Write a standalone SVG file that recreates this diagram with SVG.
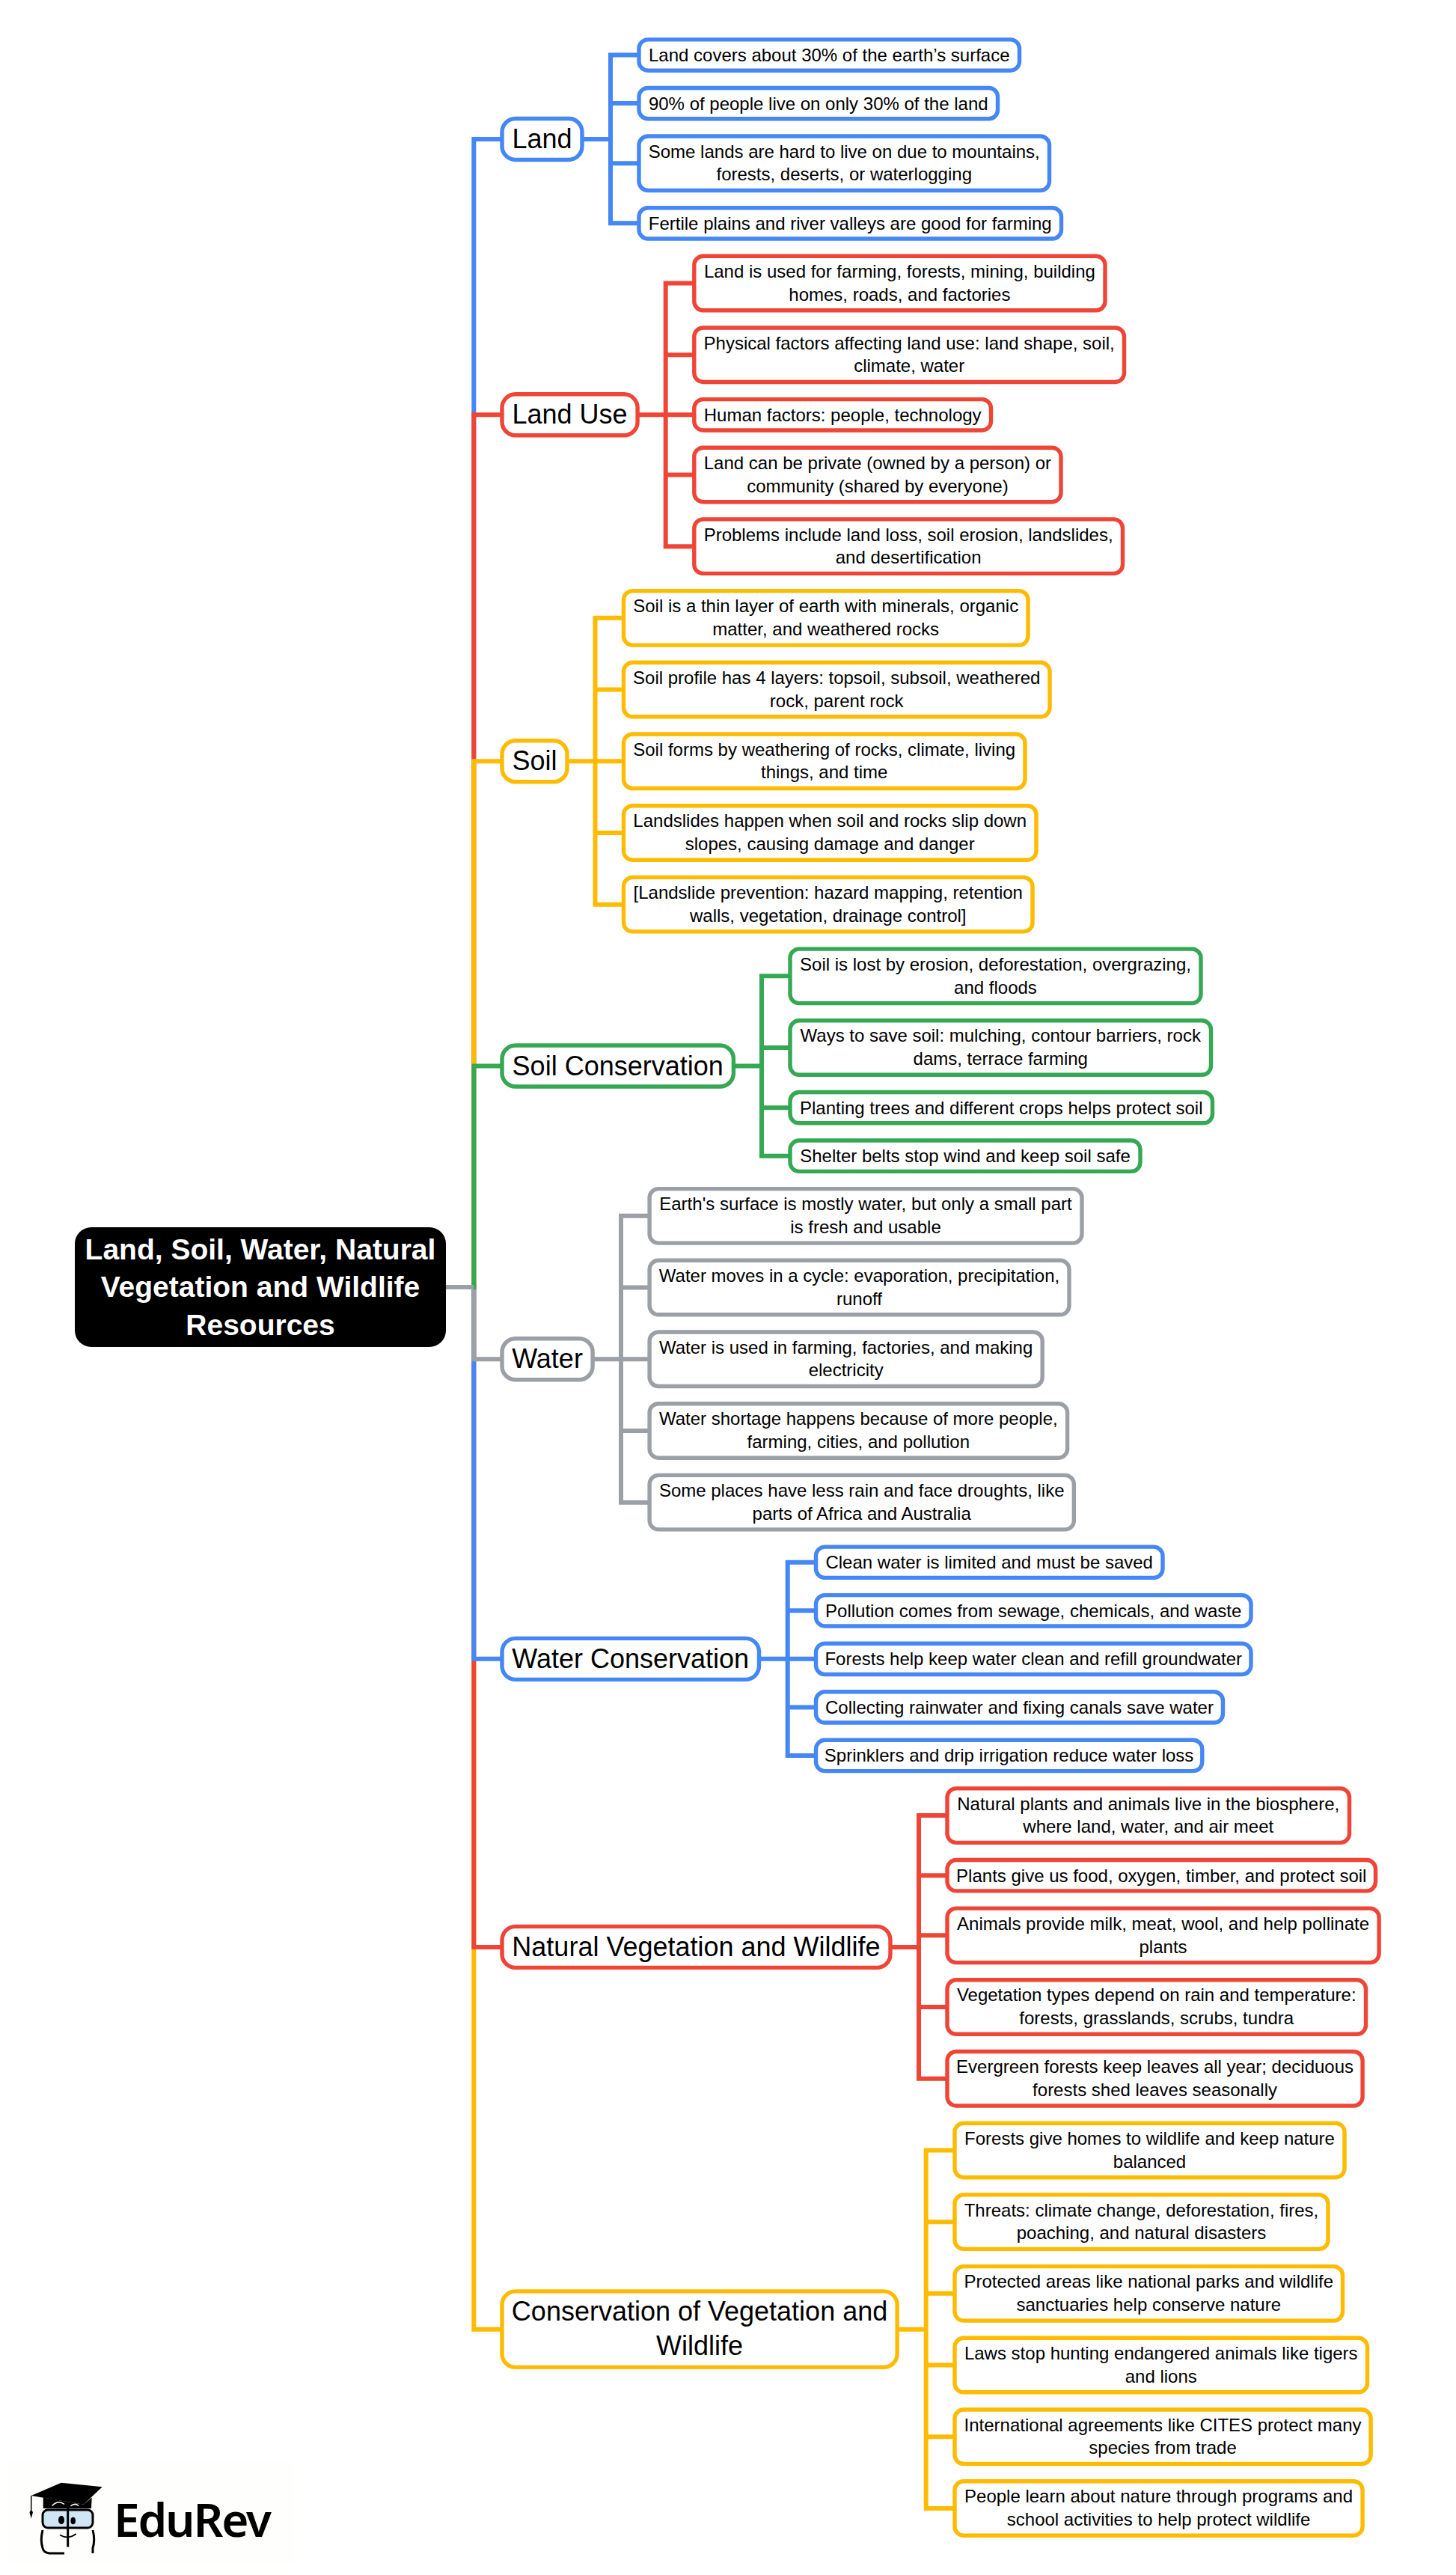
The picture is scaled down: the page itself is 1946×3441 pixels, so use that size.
<svg xmlns="http://www.w3.org/2000/svg" width="1946" height="3441" viewBox="0 0 1946 3441">
<style>
text{font-family:"Liberation Sans",Arial,sans-serif;text-anchor:middle;fill:#000}
.leaf text{font-size:24px}
.top text{font-size:36px}
.leaf rect,.top rect{fill:#fff;stroke-width:5.4}
.leaf rect{rx:12px;ry:12px}
.top rect{rx:18px;ry:18px}
.b rect{stroke:#4487f5}.r rect{stroke:#ef4537}.y rect{stroke:#ffbb00}.g rect{stroke:#34a853}.k rect{stroke:#9aa0a6}
#connectors path{fill:none;stroke-width:6;stroke-linejoin:miter}
path.b{stroke:#4487f5}path.r{stroke:#ef4537}path.y{stroke:#ffbb00}path.g{stroke:#34a853}path.k{stroke:#9aa0a6}
</style>
<rect width="1946" height="3441" fill="#fff"/>
<rect x="10" y="3290" width="383" height="135" fill="#fefefc"/>
<g id="connectors">
<path class="y" d="M596 1720H633.3V3112.7H671"/>
<path class="r" d="M596 1720H633.3V2601.9H671"/>
<path class="b" d="M596 1720H633.3V2216.85H671"/>
<path class="k" d="M596 1720H633.3V1816.25H671"/>
<path class="b" d="M596 1720H633.3V185.95H671"/>
<path class="r" d="M596 1720H633.3V554.3H671"/>
<path class="y" d="M596 1720H633.3V1017.25H671"/>
<path class="g" d="M596 1720H633.3V1424.5H671"/>
<path class="k" d="M596 1720H633.3"/>
<path class="b" d="M780 185.95H816M854 73.55H816V298.35H854M816 138.1H854M816 218.25H854"/>
<path class="r" d="M854 554.3H927.8M927.8 378.5H889.7V730.15H927.8M889.7 474.2H927.8M889.7 634.45H927.8"/>
<path class="y" d="M760 1017.25H833.5M833.5 825.85H795.5V1208.65H833.5M795.5 921.55H833.5M795.5 1112.95H833.5"/>
<path class="g" d="M982 1424.5H1018M1056 1304.35H1018V1544.7H1056M1018 1400.05H1056M1018 1480.15H1056"/>
<path class="k" d="M794 1816.25H868.1M868.1 1624.85H830V2007.65H868.1M830 1720.55H868.1M830 1911.95H868.1"/>
<path class="b" d="M1016 2216.85H1090.500M1090.500 2087.75H1052.700V2345.95H1090.500M1052.700 2152.3H1090.500M1052.700 2281.4H1090.500"/>
<path class="r" d="M1192 2601.9H1228M1266 2426.1H1228V2777.75H1266M1228 2506.2H1266M1228 2586.35H1266M1228 2682.05H1266"/>
<path class="y" d="M1201 3112.7H1237.7M1276 2873.45H1237.7V3351.95H1276M1237.7 2969.15H1276M1237.7 3064.85H1276M1237.7 3160.55H1276M1237.7 3256.25H1276"/>
</g>
<g id="root">
<rect x="100" y="1640" width="496" height="160" rx="22" fill="#000"/>
<text x="348" y="1682.7" font-size="39" font-weight="700" style="fill:#fff">Land, Soil, Water, Natural</text>
<text x="348" y="1733" font-size="39" font-weight="700" style="fill:#fff">Vegetation and Wildlife</text>
<text x="348" y="1783.500" font-size="39" font-weight="700" style="fill:#fff">Resources</text>
</g>
<g id="land" class="top b"><rect x="671" y="158.45" width="107" height="55"/><text x="724.5" y="198">Land</text></g>
<g id="land-use" class="top r"><rect x="671" y="526.8" width="181.1" height="55"/><text x="761.55" y="566.3">Land Use</text></g>
<g id="soil" class="top y"><rect x="671" y="989.75" width="87" height="55"/><text x="714.5" y="1029.25">Soil</text></g>
<g id="soil-conservation" class="top g"><rect x="671" y="1397" width="309.4" height="55"/><text x="825.7" y="1436.5">Soil Conservation</text></g>
<g id="water" class="top k"><rect x="671" y="1788.75" width="121.1" height="55"/><text x="731.55" y="1828.25">Water</text></g>
<g id="water-conservation" class="top b"><rect x="671" y="2189.35" width="343.5" height="55"/><text x="842.75" y="2228.85">Water Conservation</text></g>
<g id="natural-vegetation" class="top r"><rect x="671" y="2574.4" width="519" height="55"/><text x="930.5" y="2613.9">Natural Vegetation and Wildlife</text></g>
<g id="conservation-vegetation" class="top y"><rect x="671" y="3061.9" width="528.1" height="101.5"/><text x="935.05" y="3101">Conservation of Vegetation and</text><text x="935.05" y="3147">Wildlife</text></g>
<g id="l1" class="leaf b"><rect x="854" y="52.9" width="508.5" height="41.3"/><text x="1108.25" y="81.95">Land covers about 30% of the earth’s surface</text></g>
<g id="l2" class="leaf b"><rect x="854" y="117.45" width="479.5" height="41.3"/><text x="1093.75" y="146.5">90% of people live on only 30% of the land</text></g>
<g id="l3" class="leaf b"><rect x="854" y="182" width="548.5" height="72.5"/><text x="1128.25" y="210.65">Some lands are hard to live on due to mountains,</text><text x="1128.25" y="241.45">forests, deserts, or waterlogging</text></g>
<g id="l4" class="leaf b"><rect x="854" y="277.7" width="564.5" height="41.3"/><text x="1136.25" y="306.75">Fertile plains and river valleys are good for farming</text></g>
<g id="r1" class="leaf r"><rect x="927.8" y="342.25" width="549.2" height="72.5"/><text x="1202.4" y="370.9">Land is used for farming, forests, mining, building</text><text x="1202.4" y="401.7">homes, roads, and factories</text></g>
<g id="r2" class="leaf r"><rect x="927.8" y="437.95" width="574.7" height="72.5"/><text x="1215.15" y="466.6">Physical factors affecting land use: land shape, soil,</text><text x="1215.15" y="497.4">climate, water</text></g>
<g id="r3" class="leaf r"><rect x="927.8" y="533.65" width="396.7" height="41.3"/><text x="1126.15" y="562.7">Human factors: people, technology</text></g>
<g id="r4" class="leaf r"><rect x="927.8" y="598.2" width="490.2" height="72.5"/><text x="1172.9" y="626.85">Land can be private (owned by a person) or</text><text x="1172.9" y="657.65">community (shared by everyone)</text></g>
<g id="r5" class="leaf r"><rect x="927.8" y="693.9" width="572.7" height="72.5"/><text x="1214.15" y="722.55">Problems include land loss, soil erosion, landslides,</text><text x="1214.15" y="753.35">and desertification</text></g>
<g id="s1" class="leaf y"><rect x="833.5" y="789.6" width="540.5" height="72.5"/><text x="1103.7" y="818.25">Soil is a thin layer of earth with minerals, organic</text><text x="1103.7" y="849.05">matter, and weathered rocks</text></g>
<g id="s2" class="leaf y"><rect x="833.5" y="885.3" width="569.5" height="72.5"/><text x="1118.2" y="913.95">Soil profile has 4 layers: topsoil, subsoil, weathered</text><text x="1118.2" y="944.75">rock, parent rock</text></g>
<g id="s3" class="leaf y"><rect x="833.5" y="981" width="536.5" height="72.5"/><text x="1101.7" y="1009.65">Soil forms by weathering of rocks, climate, living</text><text x="1101.7" y="1040.45">things, and time</text></g>
<g id="s4" class="leaf y"><rect x="833.5" y="1076.7" width="551.5" height="72.5"/><text x="1109.2" y="1105.35">Landslides happen when soil and rocks slip down</text><text x="1109.2" y="1136.15">slopes, causing damage and danger</text></g>
<g id="s5" class="leaf y"><rect x="833.5" y="1172.4" width="546.5" height="72.5"/><text x="1106.75" y="1201.05">[Landslide prevention: hazard mapping, retention</text><text x="1106.75" y="1231.85">walls, vegetation, drainage control]</text></g>
<g id="g1" class="leaf g"><rect x="1056" y="1268.1" width="549" height="72.5"/><text x="1330.5" y="1296.75">Soil is lost by erosion, deforestation, overgrazing,</text><text x="1330.5" y="1327.55">and floods</text></g>
<g id="g2" class="leaf g"><rect x="1056" y="1363.8" width="562.5" height="72.5"/><text x="1337.25" y="1392.45">Ways to save soil: mulching, contour barriers, rock</text><text x="1337.25" y="1423.25">dams, terrace farming</text></g>
<g id="g3" class="leaf g"><rect x="1056" y="1459.5" width="564.5" height="41.3"/><text x="1338.25" y="1488.55">Planting trees and different crops helps protect soil</text></g>
<g id="g4" class="leaf g"><rect x="1056" y="1524.05" width="468" height="41.3"/><text x="1290" y="1553.1">Shelter belts stop wind and keep soil safe</text></g>
<g id="w1" class="leaf k"><rect x="868.1" y="1588.6" width="577.9" height="72.5"/><text x="1157" y="1617.25">Earth's surface is mostly water, but only a small part</text><text x="1157" y="1648.05">is fresh and usable</text></g>
<g id="w2" class="leaf k"><rect x="868.1" y="1684.3" width="560.9" height="72.5"/><text x="1148.5" y="1712.95">Water moves in a cycle: evaporation, precipitation,</text><text x="1148.5" y="1743.75">runoff</text></g>
<g id="w3" class="leaf k"><rect x="868.1" y="1780" width="525.1" height="72.5"/><text x="1130.65" y="1808.65">Water is used in farming, factories, and making</text><text x="1130.65" y="1839.45">electricity</text></g>
<g id="w4" class="leaf k"><rect x="868.1" y="1875.7" width="558.5" height="72.5"/><text x="1147.3" y="1904.35">Water shortage happens because of more people,</text><text x="1147.3" y="1935.15">farming, cities, and pollution</text></g>
<g id="w5" class="leaf k"><rect x="868.1" y="1971.4" width="567.3" height="72.5"/><text x="1151.7" y="2000.05">Some places have less rain and face droughts, like</text><text x="1151.7" y="2030.85">parts of Africa and Australia</text></g>
<g id="b1" class="leaf b"><rect x="1090.5" y="2067.1" width="463.5" height="41.3"/><text x="1322.2" y="2096.15">Clean water is limited and must be saved</text></g>
<g id="b2" class="leaf b"><rect x="1090.5" y="2131.65" width="581.5" height="41.3"/><text x="1381.2" y="2160.7">Pollution comes from sewage, chemicals, and waste</text></g>
<g id="b3" class="leaf b"><rect x="1090.5" y="2196.2" width="581.5" height="41.3"/><text x="1381.2" y="2225.25">Forests help keep water clean and refill groundwater</text></g>
<g id="b4" class="leaf b"><rect x="1090.5" y="2260.75" width="544" height="41.3"/><text x="1362.5" y="2289.8">Collecting rainwater and fixing canals save water</text></g>
<g id="b5" class="leaf b"><rect x="1090.5" y="2325.3" width="516.3" height="41.3"/><text x="1348.6" y="2354.35">Sprinklers and drip irrigation reduce water loss</text></g>
<g id="n1" class="leaf r"><rect x="1266" y="2389.85" width="537.5" height="72.5"/><text x="1534.75" y="2418.5">Natural plants and animals live in the biosphere,</text><text x="1534.75" y="2449.3">where land, water, and air meet</text></g>
<g id="n2" class="leaf r"><rect x="1266" y="2485.55" width="572.5" height="41.3"/><text x="1552.25" y="2514.6">Plants give us food, oxygen, timber, and protect soil</text></g>
<g id="n3" class="leaf r"><rect x="1266" y="2550.1" width="577.1" height="72.5"/><text x="1554.55" y="2578.75">Animals provide milk, meat, wool, and help pollinate</text><text x="1554.55" y="2609.55">plants</text></g>
<g id="n4" class="leaf r"><rect x="1266" y="2645.8" width="559.5" height="72.5"/><text x="1545.75" y="2674.45">Vegetation types depend on rain and temperature:</text><text x="1545.75" y="2705.25">forests, grasslands, scrubs, tundra</text></g>
<g id="n5" class="leaf r"><rect x="1266" y="2741.5" width="555.1" height="72.5"/><text x="1543.55" y="2770.15">Evergreen forests keep leaves all year; deciduous</text><text x="1543.55" y="2800.95">forests shed leaves seasonally</text></g>
<g id="c1" class="leaf y"><rect x="1276" y="2837.2" width="521" height="72.5"/><text x="1536.5" y="2865.85">Forests give homes to wildlife and keep nature</text><text x="1536.5" y="2896.65">balanced</text></g>
<g id="c2" class="leaf y"><rect x="1276" y="2932.9" width="499" height="72.5"/><text x="1525.5" y="2961.55">Threats: climate change, deforestation, fires,</text><text x="1525.5" y="2992.35">poaching, and natural disasters</text></g>
<g id="c3" class="leaf y"><rect x="1276" y="3028.6" width="518.5" height="72.5"/><text x="1535.25" y="3057.25">Protected areas like national parks and wildlife</text><text x="1535.25" y="3088.05">sanctuaries help conserve nature</text></g>
<g id="c4" class="leaf y"><rect x="1276" y="3124.3" width="551.5" height="72.5"/><text x="1551.75" y="3152.95">Laws stop hunting endangered animals like tigers</text><text x="1551.75" y="3183.75">and lions</text></g>
<g id="c5" class="leaf y"><rect x="1276" y="3220" width="556.1" height="72.5"/><text x="1554.05" y="3248.65">International agreements like CITES protect many</text><text x="1554.05" y="3279.45">species from trade</text></g>
<g id="c6" class="leaf y"><rect x="1276" y="3315.7" width="545.1" height="72.5"/><text x="1548.55" y="3344.35">People learn about nature through programs and</text><text x="1548.55" y="3375.15">school activities to help protect wildlife</text></g>
<g id="logo">
<rect x="57" y="3354" width="67" height="24" rx="7" fill="#cfe6f5" stroke="#000" stroke-width="3"/>
<path d="M57 3381c-2 8-2 18 0 24q1 6 9 7h20M124 3381c2 8 2 18 0 24v7" fill="none" stroke="#000" stroke-width="3"/>
<path d="M90.700 3352V3403.500" fill="none" stroke="#000" stroke-width="3"/>
<path d="M57.700 3337.500V3352H122L122.700 3337.500L111.700 3346.700Z" fill="#000"/>
<path d="M41.700 3335L81.700 3317.700L136.700 3323.300L111.700 3346.700Z" fill="#000"/>
<path d="M41.700 3335V3355" fill="none" stroke="#000" stroke-width="1.500"/>
<path d="M39.500 3357Q41.700 3352 44 3357L41.700 3365.500Z" fill="#000"/>
<path d="M69.500 3348.500Q78 3340 86 3346.500M94.500 3349Q100 3344 105 3348.500" fill="none" stroke="#fff" stroke-width="1.500"/>
<ellipse cx="82" cy="3367.500" rx="4" ry="5.800" fill="#000"/>
<ellipse cx="97.700" cy="3368.500" rx="3.300" ry="4.800" fill="#000"/>
<path d="M80 3387.500Q91 3394 101.700 3386" fill="none" stroke="#000" stroke-width="1.800"/>
<text x="257.500" y="3390" font-size="62" font-weight="600" textLength="211" style="font-family:'Noto Sans','Open Sans',sans-serif">EduRev</text>
</g>
</svg>
